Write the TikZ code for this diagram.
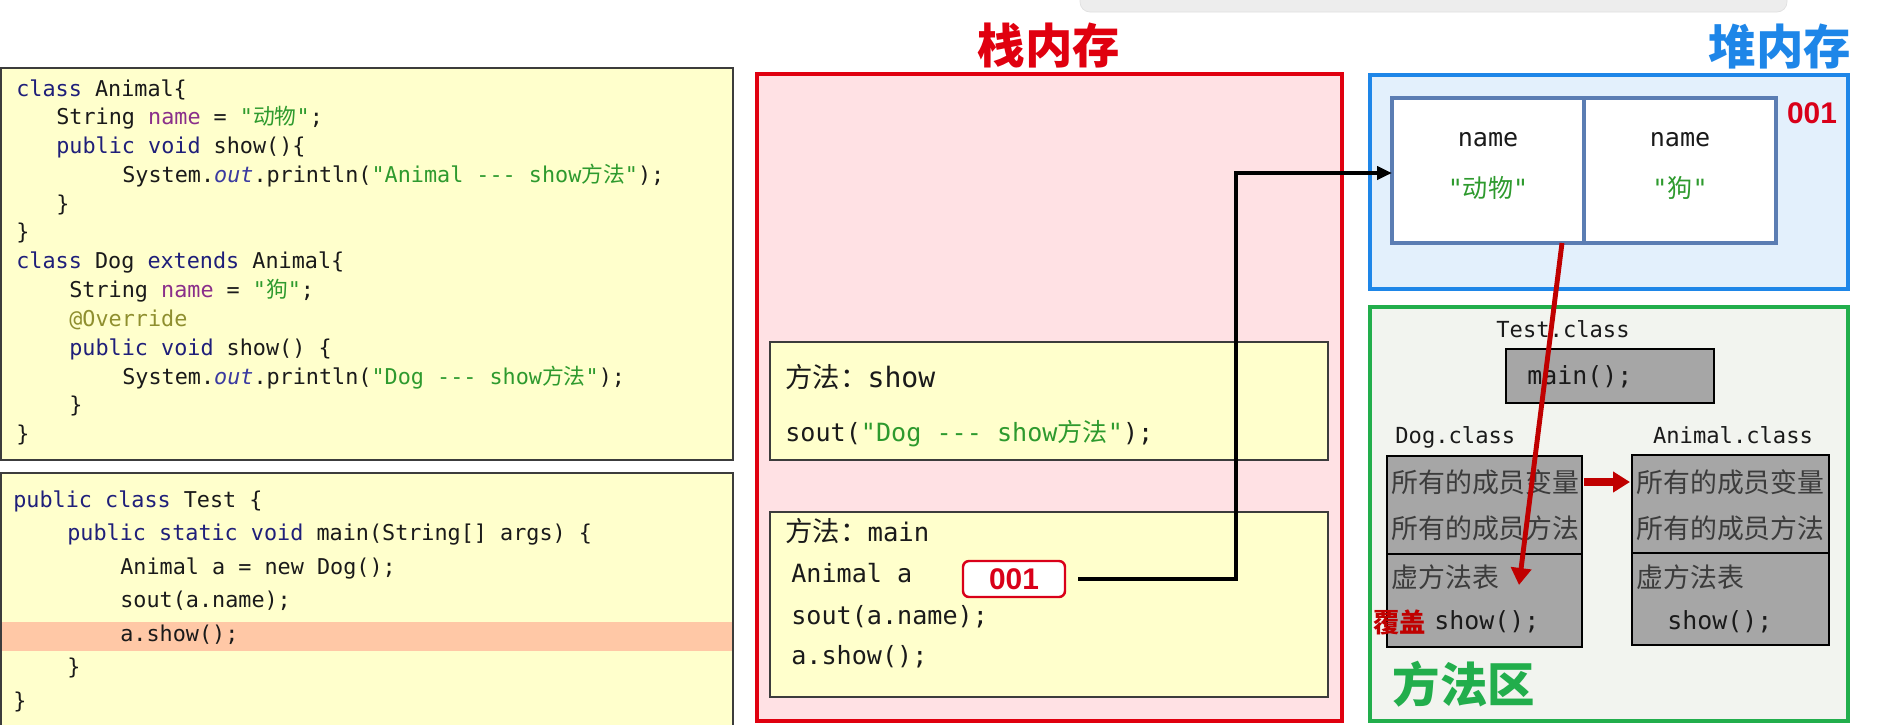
\documentclass[tikz,border=0pt]{standalone}
\usepackage{fontspec}
\setmonofont{DejaVu Sans Mono}
\newfontfamily\cjk{Noto Sans CJK SC}
\newfontfamily\digits{Liberation Sans}
\usetikzlibrary{arrows.meta, positioning}

\definecolor{codebg}{HTML}{FFFFCC}
\definecolor{hlbg}{HTML}{FFC8A6}
\definecolor{ink}{HTML}{1A1A1A}
\definecolor{kwblue}{HTML}{1F1F7A}
\definecolor{fieldpurple}{HTML}{8A2F8A}
\definecolor{outblue}{HTML}{3A3AA0}
\definecolor{strgreen}{HTML}{2E9A2E}
\definecolor{annot}{HTML}{8F8F2F}
\definecolor{stackred}{HTML}{E0000F}
\definecolor{stackbg}{HTML}{FFE1E4}
\definecolor{heapblue}{HTML}{1E86E8}
\definecolor{heapbg}{HTML}{E3F0FC}
\definecolor{objblue}{HTML}{5B7DB3}
\definecolor{areagreen}{HTML}{22AE4C}
\definecolor{areabg}{HTML}{F2F4EF}
\definecolor{classgray}{HTML}{A6A6A6}
\definecolor{ptrred}{HTML}{C00000}
\definecolor{addrred}{HTML}{D90019}
\definecolor{barfill}{HTML}{EDEDED}

\newcommand{\zh}[1]{{\cjk #1}}
\newcommand{\zhbig}[1]{{\cjk\fontsize{15.6}{18}\selectfont #1}}
\newcommand{\kw}[1]{\textcolor{kwblue}{#1}}
\newcommand{\fld}[1]{\textcolor{fieldpurple}{#1}}
\newcommand{\str}[1]{\textcolor{strgreen}{#1}}
\newcommand{\codefont}{\ttfamily\fontsize{12.4}{15}\selectfont}
\newcommand{\framefont}{\ttfamily\fontsize{14.3}{17}\selectfont}
\newcommand{\clsfont}{\ttfamily\fontsize{12.6}{15}\selectfont}
\newcommand{\memfont}{\ttfamily\fontsize{14.2}{17}\selectfont}
\newcommand{\zhfont}{\cjk\fontsize{15.3}{18}\selectfont}
\newcommand{\titlefont}{\cjk\bfseries\fontsize{27}{30}\selectfont}
\newcommand{\addrfont}{\digits\bfseries\fontsize{17}{20}\selectfont}

\begin{document}
\begin{tikzpicture}[x=0.02cm, y=-0.02cm,
  code/.style={anchor=west, inner sep=0pt, font=\codefont, text=ink, text height=1.6ex, text depth=.4ex},
  frametext/.style={anchor=west, inner sep=0pt, font=\framefont, text=ink, text height=1.6ex, text depth=.4ex},
  cls/.style={inner sep=0pt, font=\clsfont, text=ink},
  mem/.style={anchor=west, inner sep=0pt, font=\memfont, text=ink},
  zhtext/.style={anchor=west, inner sep=0pt, font=\zhfont, text=ink!85},
  title/.style={inner sep=0pt, font=\titlefont},
  codebox/.style={draw=ink!85, line width=1pt, fill=codebg},
  framebox/.style={draw=ink!85, line width=0.9pt, fill=codebg},
  classbox/.style={draw=black, line width=1.1pt, fill=classgray},
  addr/.style={draw=addrred, line width=1.4pt, fill=white, rounded corners=0.12cm,
    minimum width=2.04cm, minimum height=0.72cm, inner sep=0pt, text=addrred, font=\addrfont},
  ptr/.style={line width=2.3pt, -{Triangle[length=0.3cm, width=0.26cm]}},
  redptr/.style={draw=ptrred, line width=2.8pt, -{Triangle[length=0.34cm, width=0.4cm]}}
]
\useasboundingbox (0,0) rectangle (1884,724);

% screen bar at the top
\draw[draw=black!12, fill=barfill, rounded corners=0.2cm] (1080,-14) rectangle (1787,12);

% Code: class Animal / class Dog
\draw[codebox] (1,68) rectangle (733,460);
\node[code] (a1) at (16,92) {\kw{class} Animal\{};
\node[code] (a2) at (56,120) {String \fld{name} = \str{"\zh{动物}"};};
\node[code] (a3) at (56,149) {\kw{public} \kw{void} show()\{};
\node[code] (a4) at (122,178) {System.\textcolor{outblue}{\itshape out}.println(\str{"Animal -{}-{}- show\zh{方法}"});};
\node[code] (a5) at (56,207) {\}};
\node[code] (a6) at (16,235) {\}};
\node[code] (d1) at (16,264) {\kw{class} Dog \kw{extends} Animal\{};
\node[code] (d2) at (69,293) {String \fld{name} = \str{"\zh{狗}"};};
\node[code] (d3) at (69,322) {\textcolor{annot}{@Override}};
\node[code] (d4) at (69,351) {\kw{public} \kw{void} show() \{};
\node[code] (d5) at (122,380) {System.\textcolor{outblue}{\itshape out}.println(\str{"Dog -{}-{}- show\zh{方法}"});};
\node[code] (d6) at (69,408) {\}};
\node[code] (d7) at (16,437) {\}};

% Code: class Test
\fill[codebg] (1,473) rectangle (733,740);
\fill[hlbg] (2,622) rectangle (732,651);
\draw[ink!85, line width=1pt] (1,740) -- (1,473) -- (733,473) -- (733,740);
\node[code] (t1) at (13,503) {\kw{public} \kw{class} Test \{};
\node[code] (t2) at (67,536) {\kw{public} \kw{static} \kw{void} main(String[] args) \{};
\node[code] (t3) at (120,570) {Animal a = new Dog();};
\node[code] (t4) at (120,603) {sout(a.name);};
\node[code] (t5) at (120,637) {a.show();};
\node[code] (t6) at (67,670) {\}};
\node[code] (t7) at (13,704) {\}};

% Stack
\node[title, text=stackred] (stacktitle) at (1049,45) {栈内存};
\draw[draw=stackred, line width=2.4pt, fill=stackbg] (757,74) rectangle (1342,721);
\draw[framebox] (770,342) rectangle (1328,460);
\node[frametext, font=\ttfamily\fontsize{16}{19}\selectfont] (showhead) at (785,383) {\zhbig{方法：}show};
\node[frametext] (showbody) at (785,437) {sout(\str{"Dog -{}-{}- show\zh{方法}"});};
\draw[framebox] (770,512) rectangle (1328,697);
\node[frametext, font=\ttfamily\fontsize{14.6}{17}\selectfont] (mainhead) at (785,537) {\zhbig{方法：}main};
\node[frametext] (vara) at (791,578) {Animal a};
\node[addr] (addr) at (1014,579) {001};
\node[frametext] (printa) at (791,620) {sout(a.name);};
\node[frametext] (showa) at (791,660) {a.show();};

% Heap
\node[title, text=heapblue] (heaptitle) at (1780,46) {堆内存};
\draw[draw=heapblue, line width=2.4pt, fill=heapbg] (1370,75) rectangle (1848,289);
\draw[draw=objblue, line width=1.8pt, fill=white] (1392,98) rectangle (1776,243);
\draw[draw=objblue, line width=1.8pt] (1584,98) -- (1584,243);
\node[frametext, anchor=center] (fieldA) at (1488,142) {name};
\node[frametext, anchor=center, text=strgreen] (valA) at (1488,193) {"\zh{动物}"};
\node[frametext, anchor=center] (fieldB) at (1680,142) {name};
\node[frametext, anchor=center, text=strgreen] (valB) at (1680,193) {"\zh{狗}"};
\node[inner sep=0pt, text=addrred, font=\addrfont] (objaddr) at (1812,113) {001};
\coordinate (objin) at (1392,173);
\coordinate (objfoot) at (1562,243);

% Method area
\draw[draw=areagreen, line width=2.4pt, fill=areabg] (1370,307) rectangle (1848,721);
\node[cls] (testcls) at (1563,329) {Test.class};
\draw[classbox] (1506,349) rectangle (1714,403);
\node[mem] (mainm) at (1527,377) {main();};

\node[cls, anchor=west] (dogcls) at (1395,437) {Dog.class};
\draw[classbox] (1387,456) rectangle (1582,647);
\draw[black, line width=1.1pt] (1387,554) -- (1582,554);
\node[zhtext] (dogvar) at (1391,482) {所有的成员变量};
\node[zhtext] (dogfun) at (1391,528) {所有的成员方法};
\node[zhtext] (dogtab) at (1391,577) {虚方法表};
\node[inner sep=0pt, anchor=west, text=ptrred, font=\cjk\bfseries\fontsize{15}{17}\selectfont] (cover) at (1373,622) {覆盖};
\node[mem] (dogshow) at (1434,622) {show();};

\node[cls] (animalcls) at (1733,435) {Animal.class};
\draw[classbox] (1632,455) rectangle (1829,645);
\draw[black, line width=1.1pt] (1632,553) -- (1829,553);
\node[zhtext] (animalvar) at (1636,482) {所有的成员变量};
\node[zhtext] (animalfun) at (1636,528) {所有的成员方法};
\node[zhtext] (animaltab) at (1636,577) {虚方法表};
\node[mem] (animalshow) at (1667,622) {show();};

\node[title, text=areagreen] (areatitle) at (1464,684) {方法区};

% pointers
\draw[ptr, shorten <=0.24cm] (addr.east) -- (1236,579) |- (objin);
\draw[redptr, line width=4pt, shorten <=0.08cm, shorten >=0.12cm] (dogvar.east) -- (animalvar.west);
\coordinate (vtable) at (1519,585);
\draw[redptr] (objfoot) -- (vtable);

\end{tikzpicture}
\end{document}
